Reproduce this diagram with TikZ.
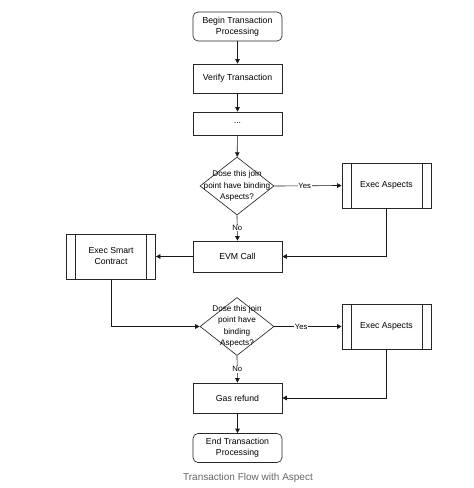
\documentclass[tikz,border=0pt]{standalone}
\usepackage{fontspec}
\setmainfont{Liberation Sans}
\usetikzlibrary{shapes.geometric,arrows.meta,calc}
\begin{document}
\begin{tikzpicture}[x=1pt,y=-1pt,
  every node/.style={font=\fontsize{8.7}{11}\selectfont, text=black},
  box/.style={draw=black!85, line width=0.65pt, minimum width=89pt, minimum height=29pt, inner sep=0pt, align=center},
  startbox/.style={box, rounded corners=5pt},
  procbox/.style={box, minimum width=89pt, minimum height=45pt,
    path picture={
      \draw[black!85, line width=0.65pt] ([xshift=9pt]path picture bounding box.north west) -- ([xshift=9pt]path picture bounding box.south west);
      \draw[black!85, line width=0.65pt] ([xshift=-9pt]path picture bounding box.north east) -- ([xshift=-9pt]path picture bounding box.south east);
    }},
  dia/.style={draw=black!85, line width=0.65pt, diamond, minimum width=74pt, minimum height=58pt, inner sep=0pt},
  dtext/.style={align=center, font=\fontsize{8.2}{11.5}\selectfont},
  arr/.style={draw=black!90, line width=0.65pt, -{Triangle[length=4.5pt,width=4.5pt]}},
  lbl/.style={fill=white, inner sep=0.6pt, font=\fontsize{7.7}{9}\selectfont}
]
\useasboundingbox (0,0) rectangle (474,488);

\node[startbox] (begin) at (237.5,26.5) {Begin Transaction\\Processing};
\node[box] (verify) at (237.5,78.5) {Verify Transaction};
\node[box, minimum height=23pt] (dots) at (237.5,123.5) {...};
\node[dia] (d1) at (237,186) {};
\node[dtext] (d1t) at (d1) {Dose this join\\point have binding\\Aspects?};
\node[procbox] (ea1) at (386.5,185.5) {Exec Aspects};
\node[box, minimum height=31pt] (evm) at (237.5,256.5) {EVM Call};
\node[procbox] (esc) at (111,256.5) {Exec Smart\\Contract};
\node[dia] (d2) at (237,326.5) {};
\node[dtext] (d2t) at (d2) {Dose this join\\point have\\binding\\Aspects?};
\node[procbox] (ea2) at (386.5,326.5) {Exec Aspects};
\node[box, minimum height=30pt] (gas) at (237.5,398) {Gas refund};
\node[startbox] (end) at (237.5,448) {End Transaction\\Processing};
\node[text=black!60, font=\fontsize{10}{12}\selectfont] (cap) at (248,478) {Transaction Flow with Aspect};

\draw[arr] (begin) -- (verify);
\draw[arr] (verify) -- (dots);
\draw[arr] (dots) -- (d1);
\draw[arr] (d1.east) -- node[lbl, pos=0.45] {Yes} (ea1.west);
\draw[arr] (d1.south) -- node[lbl] {No} (evm.north);
\draw[arr] (ea1.south) |- (evm.east);
\draw[arr] (evm.west) -- (esc.east);
\draw[arr] (esc.south) |- (d2.west);
\draw[arr] (d2.east) -- node[lbl, pos=0.4] {Yes} (ea2.west);
\draw[arr] (d2.south) -- node[lbl] {No} (gas.north);
\draw[arr] (ea2.south) |- (gas.east);
\draw[arr] (gas) -- (end);
\end{tikzpicture}
\end{document}
